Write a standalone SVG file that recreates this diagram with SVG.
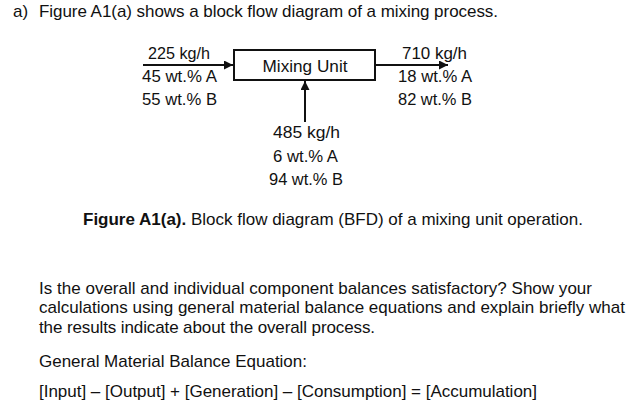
<svg xmlns="http://www.w3.org/2000/svg" width="640" height="416" viewBox="0 0 640 416">
<style>
text{font-family:"Liberation Sans",Arial,sans-serif;font-size:17px;fill:#111}
.c{text-anchor:middle}
.b{font-weight:bold}
.ln{stroke:#111;stroke-width:2;fill:none}
</style>
<defs>
<marker id="ah" viewBox="0 0 10 10" refX="10" refY="5" markerWidth="4.5" markerHeight="4.5" orient="auto" markerUnits="strokeWidth">
<path d="M0,0 L10,5 L0,10 Z" fill="#111"/>
</marker>
</defs>
<rect width="640" height="416" fill="#fff"/>
<text x="13" y="17">a)</text>
<text x="39" y="17" textLength="459" lengthAdjust="spacing">Figure A1(a) shows a block flow diagram of a mixing process.</text>
<g id="mixing-unit">
<rect x="234" y="50" width="141" height="30" class="ln"/>
<text class="c" x="305" y="72" textLength="85" lengthAdjust="spacingAndGlyphs">Mixing Unit</text>
</g>
<g id="feed1">
<text class="c" x="179" y="59" style="font-size:16px" textLength="62" lengthAdjust="spacingAndGlyphs">225 kg/h</text>
<text class="c" x="179.5" y="82" style="font-size:16px" textLength="75" lengthAdjust="spacingAndGlyphs">45 wt.% A</text>
<text class="c" x="179.5" y="105" style="font-size:16px" textLength="75" lengthAdjust="spacingAndGlyphs">55 wt.% B</text>
</g>
<g id="product">
<text class="c" x="434.5" y="59" style="font-size:16px" textLength="65" lengthAdjust="spacingAndGlyphs">710 kg/h</text>
<text class="c" x="435" y="82" style="font-size:16px" textLength="74" lengthAdjust="spacingAndGlyphs">18 wt.% A</text>
<text class="c" x="435" y="105" style="font-size:16px" textLength="74" lengthAdjust="spacingAndGlyphs">82 wt.% B</text>
</g>
<g id="feed2">
<text class="c" x="306.5" y="138" style="font-size:16px" textLength="67" lengthAdjust="spacingAndGlyphs">485 kg/h</text>
<text class="c" x="305.5" y="162" style="font-size:16px" textLength="65" lengthAdjust="spacingAndGlyphs">6 wt.% A</text>
<text class="c" x="306" y="185" style="font-size:16px" textLength="74" lengthAdjust="spacingAndGlyphs">94 wt.% B</text>
</g>
<g id="connectors">
<line x1="143" y1="65" x2="233" y2="65" class="ln" marker-end="url(#ah)"/>
<line x1="375" y1="65" x2="448" y2="65" class="ln" marker-end="url(#ah)"/>
<line x1="305" y1="122" x2="305" y2="81" class="ln" marker-end="url(#ah)"/>
</g>
<text x="83" y="225" textLength="500" lengthAdjust="spacing"><tspan class="b">Figure A1(a).</tspan> Block flow diagram (BFD) of a mixing unit operation.</text>
<text x="39" y="294" textLength="553" lengthAdjust="spacing">Is the overall and individual component balances satisfactory? Show your</text>
<text x="39" y="313" textLength="586" lengthAdjust="spacing">calculations using general material balance equations and explain briefly what</text>
<text x="39" y="333" textLength="336" lengthAdjust="spacing">the results indicate about the overall process.</text>
<text x="39" y="367" textLength="268" lengthAdjust="spacing">General Material Balance Equation:</text>
<text x="39" y="397" textLength="498" lengthAdjust="spacing">[Input] – [Output] + [Generation] – [Consumption] = [Accumulation]</text>
</svg>
